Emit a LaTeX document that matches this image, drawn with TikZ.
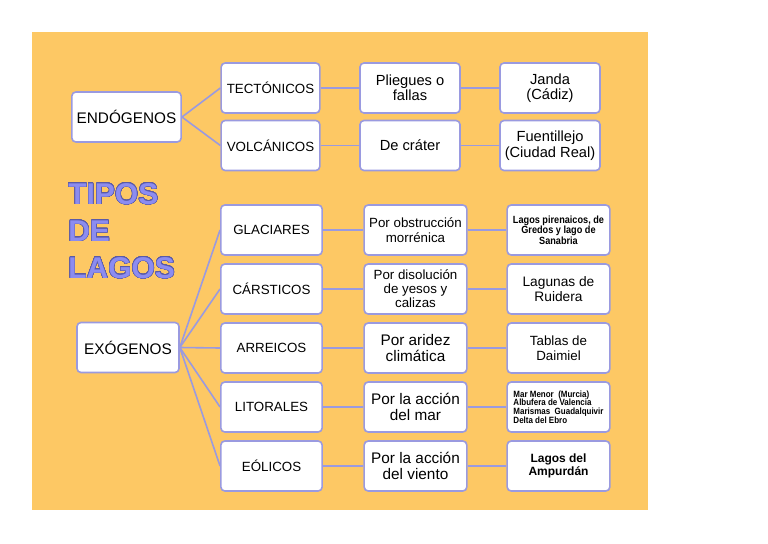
\documentclass[tikz,border=0pt]{standalone}
\usepackage{fontspec}
\setmainfont{Liberation Sans}
\newfontfamily\estrecha[FakeStretch=0.88]{Liberation Sans}
\usepackage{xcolor}
\usepackage{contour}
\usetikzlibrary{positioning}
\definecolor{fondo}{HTML}{FDC864}
\definecolor{borde}{HTML}{9A9AE0}
\definecolor{titulo}{HTML}{8C8CF0}
\definecolor{tituloborde}{HTML}{5A5AA8}
\contourlength{0.35pt}
\contournumber{32}

\begin{document}
\begin{tikzpicture}[x=0.75pt,y=-0.75pt,
  caja/.style={draw=borde,line width=1.2pt,fill=white,rounded corners=3pt,align=center,
    minimum width=75pt,minimum height=37.5pt,inner sep=1pt,text=black,
    font=\fontsize{11}{11.6}\selectfont},
  raiz/.style={caja,font=\fontsize{11.5}{13}\selectfont},
  tipo/.style={caja,font=\fontsize{10}{12}\selectfont},
  lugar/.style={caja,minimum width=77pt},
  enlace/.style={draw=borde,line width=1.2pt}]
\useasboundingbox (0,0) rectangle (768,543);
\fill[fondo] (32,32) rectangle (648,510);

% titulo
\node[font=\fontsize{22.5}{27.75}\selectfont\bfseries,text=titulo,align=left,
  anchor=north west,inner sep=0pt] (tit) at (68,183)
  {\contour{tituloborde}{TIPOS}\\\contour{tituloborde}{DE}\\\contour{tituloborde}{LAGOS}};

% endogenos
\node[raiz,minimum width=82pt] (endo) at (126.5,117) {ENDÓGENOS};
\node[tipo,minimum width=74pt] (tect) at (270.5,88) {TECTÓNICOS};
\node[tipo,minimum width=74pt] (volc) at (270.5,145.5) {VOLCÁNICOS};
\node[caja] (plie) at (410,88) {Pliegues o\\fallas};
\node[caja] (crat) at (410,145.5) {De cráter};
\node[caja] (janda) at (550,88) {Janda\\(Cádiz)};
\node[caja] (fuen) at (550,145.5) {Fuentillejo\\(Ciudad Real)};

% exogenos
\node[raiz,minimum width=76.5pt] (exo) at (128,347.5) {EXÓGENOS};
\node[tipo,minimum width=76pt] (glac) at (271.5,230) {GLACIARES};
\node[tipo,minimum width=76pt] (cars) at (271.5,289) {CÁRSTICOS};
\node[tipo,minimum width=76pt] (arre) at (271.5,348) {ARREICOS};
\node[tipo,minimum width=76pt] (lito) at (271.5,407) {LITORALES};
\node[tipo,minimum width=76pt] (eoli) at (271.5,466) {EÓLICOS};

\node[lugar,font=\fontsize{10}{10.8}\selectfont] (obst) at (415.5,230) {Por obstrucción\\morrénica};
\node[lugar,font=\fontsize{10}{10.4}\selectfont] (diso) at (415.5,289) {Por disolución\\de yesos y\\calizas};
\node[lugar,font=\fontsize{11.5}{12}\selectfont] (arid) at (415.5,348) {Por aridez\\climática};
\node[lugar,font=\fontsize{11.5}{12}\selectfont] (mar) at (415.5,407) {Por la acción\\del mar};
\node[lugar,font=\fontsize{11.5}{12}\selectfont] (vien) at (415.5,466) {Por la acción\\del viento};

\node[lugar,font=\estrecha\fontsize{7.8}{7.8}\selectfont\bfseries] (piren) at (558.5,230) {Lagos pirenaicos, de\\Gredos y lago de\\Sanabria};
\node[lugar,font=\fontsize{10.3}{11}\selectfont] (ruid) at (558.5,289) {Lagunas de\\Ruidera};
\node[lugar,font=\fontsize{10}{11}\selectfont] (daim) at (558.5,348) {Tablas de\\Daimiel};
\node[lugar,align=left,font=\estrecha\fontsize{6.8}{6.6}\selectfont\bfseries] (marm) at (558.5,407)
  {Mar Menor\ \ (Murcia)\\Albufera de Valencia\\Marismas\ \ Guadalquivir\\Delta del Ebro};
\node[lugar,font=\fontsize{9}{10}\selectfont\bfseries] (ampu) at (558.5,466) {Lagos del\\Ampurdán};

% conexiones
\foreach \h in {tect,volc}
  \draw[enlace] (endo.east) -- (\h.west);
\foreach \h in {glac,cars,arre,lito,eoli}
  \draw[enlace] (exo.east) -- (\h.west);
\foreach \a/\b in {tect/plie,volc/crat,plie/janda,crat/fuen,
    glac/obst,cars/diso,arre/arid,lito/mar,eoli/vien,
    obst/piren,diso/ruid,arid/daim,mar/marm,vien/ampu}
  \draw[enlace] (\a.east) -- (\b.west);
\end{tikzpicture}
\end{document}
